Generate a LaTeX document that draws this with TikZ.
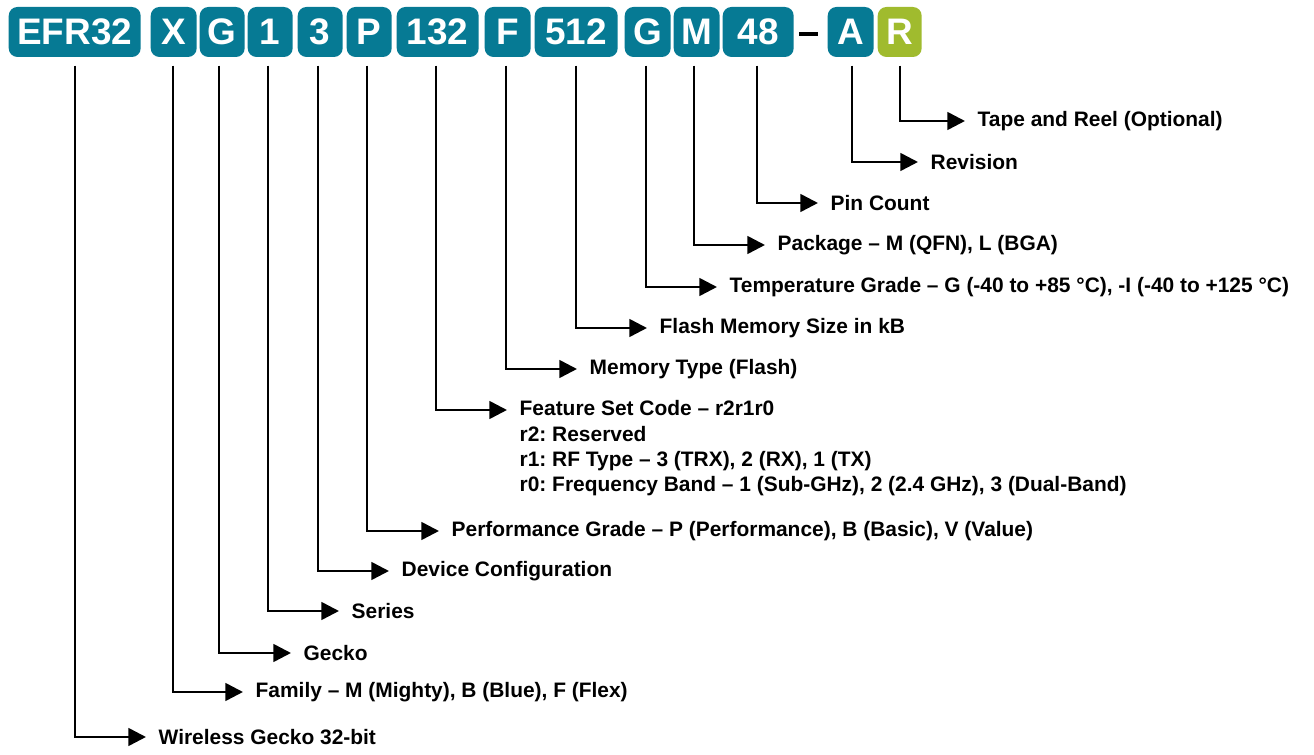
\documentclass[tikz,border=0pt]{standalone}
\usepackage{fontspec}
\setmainfont{Liberation Sans}
\usetikzlibrary{arrows.meta}
\definecolor{teal}{HTML}{067A94}
\definecolor{lime}{HTML}{A0BB2E}
\begin{document}
\frenchspacing
\begin{tikzpicture}[x=0.01cm,y=-0.01cm,
  box/.style={fill=teal,text=white,rounded corners=2.5pt,font=\fontsize{10.5}{12}\bfseries\selectfont,
    minimum height=50*0.01cm,inner sep=0pt,anchor=west},
  lbl/.style={font=\fontsize{5.95}{7.4}\bfseries\selectfont,anchor=west,inner sep=0pt,align=left},
  lead/.style={line width=0.75pt,-{Triangle[length=5pt,width=5pt]}}]
\useasboundingbox (0,0) rectangle (1314,755);
% code boxes: name, left, right, text
\foreach \n/\l/\r/\t in {b1/8/140/EFR32, b2/150/196/X, b3/199/244/G, b4/247/292/1, b5/297/342/3,
  b6/346/391/P, b7/396/478/132, b8/484/530/F, b9/534/617/512, b10/624/670/G, b11/673/719/M,
  b12/722/793/48, b13/827/873/A}
  \node[box,minimum width=(\r-\l)*0.01cm] (\n) at (\l,32) {\t};
\node[box,fill=lime,minimum width=44*0.01cm] (b14) at (877,32) {R};
\draw[line width=1pt] (799,34) -- (818,34);
% descriptions: box, x of lead, y, text x, text
\foreach \n/\x/\y/\tx/\t in {
  b1/75/737/158/{Wireless Gecko 32-bit},
  b2/173/692/255/{Family -- M (Mighty), B (Blue), F (Flex)},
  b3/219/653/303/{Gecko},
  b4/268/611/351/{Series},
  b5/318/571/401/{Device Configuration},
  b6/367/531/451/{Performance Grade -- P (Performance), B (Basic), V (Value)},
  b8/506/369/589/{Memory Type (Flash)},
  b9/576/328/659/{Flash Memory Size in kB},
  b10/646/287/729/{Temperature Grade -- G (-40 to +85 °C), -I (-40 to +125 °C)},
  b11/694/245/777/{Package -- M (QFN), L (BGA)},
  b12/757/203/830/{Pin Count},
  b13/852/162/930/{Revision},
  b14/900/121/977/{Tape and Reel (Optional)}}{
  \node[lbl] (t\n) at (\tx,\y) {\t};
  \coordinate (c\n) at (\x,\y);
  \draw[lead] (\n.south -| c\n) ++(0,8) -- (c\n) -- ([xshift=-0.12cm]t\n.west);
}
\node[lbl,anchor=north west] (tb7) at (519,400) {Feature Set Code -- r2r1r0\\[-0.2pt] r2: Reserved\\[-0.2pt]
  r1: RF Type -- 3 (TRX), 2 (RX), 1 (TX)\\[-0.2pt] r0: Frequency Band -- 1 (Sub-GHz), 2 (2.4 GHz), 3 (Dual-Band)};
\coordinate (cb7) at (436,410);
\draw[lead] (b7.south -| cb7) ++(0,8) -- (cb7) -- (507,410);
\end{tikzpicture}
\end{document}
